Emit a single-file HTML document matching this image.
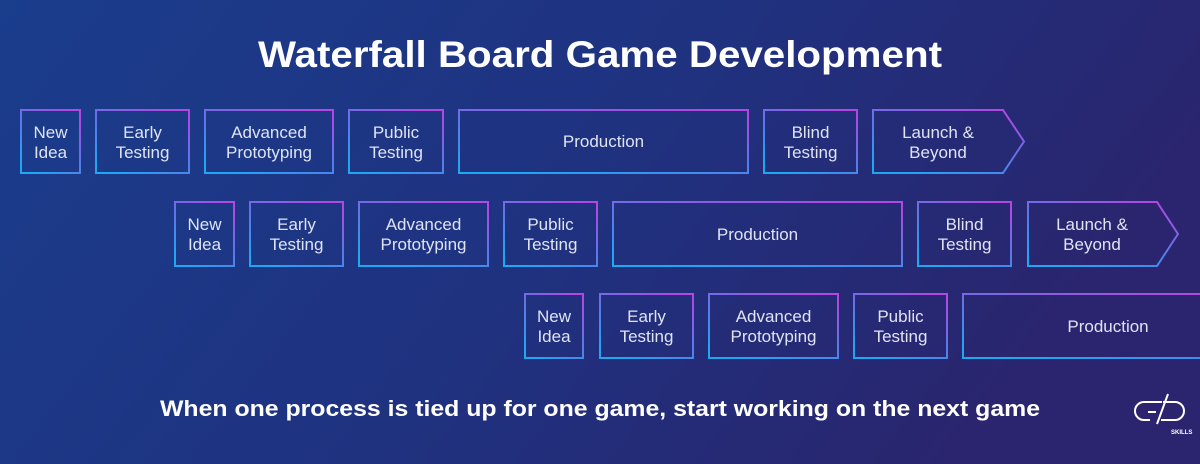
<!DOCTYPE html>
<html><head><meta charset="utf-8"><style>
html,body{margin:0;padding:0;width:1200px;height:464px;overflow:hidden;background:#1e3480}
svg{display:block}
text{font-family:"Liberation Sans",sans-serif}
</style></head><body>
<svg width="1200" height="464" viewBox="0 0 1200 464" xmlns="http://www.w3.org/2000/svg">
<defs>
<linearGradient id="bg" x1="0" y1="0" x2="1" y2="0.3">
<stop offset="0" stop-color="#1a3d8c"/><stop offset="0.55" stop-color="#1f3280"/><stop offset="1" stop-color="#2a256e"/>
</linearGradient>
<linearGradient id="bd" x1="0.2" y1="1" x2="0.8" y2="0">
<stop offset="0" stop-color="#1fa8f2"/><stop offset="0.5" stop-color="#5b78e8"/><stop offset="1" stop-color="#b247e2"/>
</linearGradient>
</defs>
<rect width="1200" height="464" fill="url(#bg)"/>
<text x="258" y="67" fill="#fff" font-size="37" font-weight="bold" textLength="684" lengthAdjust="spacingAndGlyphs">Waterfall Board Game Development</text>
<g fill="none" stroke="url(#bd)" stroke-width="2">
<rect x="21" y="110" width="59" height="63"/>
<rect x="96" y="110" width="93" height="63"/>
<rect x="205" y="110" width="128" height="63"/>
<rect x="349" y="110" width="94" height="63"/>
<rect x="459" y="110" width="289" height="63"/>
<rect x="764" y="110" width="93" height="63"/>
<path d="M873 110 H1003 L1024 141.5 L1003 173 H873 Z"/>
<rect x="175" y="202" width="59" height="64"/>
<rect x="250" y="202" width="93" height="64"/>
<rect x="359" y="202" width="129" height="64"/>
<rect x="504" y="202" width="93" height="64"/>
<rect x="613" y="202" width="289" height="64"/>
<rect x="918" y="202" width="93" height="64"/>
<path d="M1028 202 H1157 L1178 234 L1157 266 H1028 Z"/>
<rect x="525" y="294" width="58" height="64"/>
<rect x="600" y="294" width="93" height="64"/>
<rect x="709" y="294" width="129" height="64"/>
<rect x="854" y="294" width="93" height="64"/>
<rect x="963" y="294" width="290" height="64"/>
</g>
<g fill="#dfe3f3" font-size="17" text-anchor="middle">
<text x="50.5" y="138">New</text><text x="50.5" y="158">Idea</text>
<text x="142.5" y="138">Early</text><text x="142.5" y="158">Testing</text>
<text x="269" y="138">Advanced</text><text x="269" y="158">Prototyping</text>
<text x="396" y="138">Public</text><text x="396" y="158">Testing</text>
<text x="603.5" y="147">Production</text>
<text x="810.5" y="138">Blind</text><text x="810.5" y="158">Testing</text>
<text x="938" y="138">Launch &amp;</text><text x="938" y="158">Beyond</text>

<text x="204.5" y="230">New</text><text x="204.5" y="250">Idea</text>
<text x="296.5" y="230">Early</text><text x="296.5" y="250">Testing</text>
<text x="423.5" y="230">Advanced</text><text x="423.5" y="250">Prototyping</text>
<text x="550.5" y="230">Public</text><text x="550.5" y="250">Testing</text>
<text x="757.5" y="240">Production</text>
<text x="964.5" y="230">Blind</text><text x="964.5" y="250">Testing</text>
<text x="1092" y="230">Launch &amp;</text><text x="1092" y="250">Beyond</text>

<text x="554" y="322">New</text><text x="554" y="342">Idea</text>
<text x="646.5" y="322">Early</text><text x="646.5" y="342">Testing</text>
<text x="773.5" y="322">Advanced</text><text x="773.5" y="342">Prototyping</text>
<text x="900.5" y="322">Public</text><text x="900.5" y="342">Testing</text>
<text x="1108" y="332">Production</text>
</g>
<text x="160" y="416" fill="#fff" font-size="22" font-weight="bold" textLength="880" lengthAdjust="spacingAndGlyphs">When one process is tied up for one game, start working on the next game</text>
<g fill="none" stroke="#fff" stroke-width="2">
<path d="M1150 420 h-6 a9 9 0 0 1 0 -18 h18"/>
<path d="M1157 424 l11 -30"/>
<path d="M1163 402 h12 a9 9 0 0 1 0 18 h-14"/>
<path d="M1148 412 h8"/>
</g>
<text x="1171" y="434" fill="#fff" font-size="6" font-weight="bold">SKILLS</text>
</svg>
</body></html>
